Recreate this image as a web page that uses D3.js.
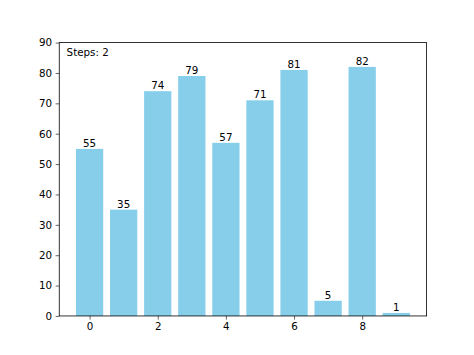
<!DOCTYPE html>
<html lang="en">
<head>
    <meta charset="UTF-8">
    <title>Steps bar chart</title>
    <script src="https://d3js.org/d3.v7.min.js"></script>
    <style>
        body { margin: 0; background: #fff; overflow: hidden; }
        text { font-family: "DejaVu Sans", sans-serif; }
    </style>
</head>
<body>
    <div id="chart"></div>
    <script>
        const categories = [0, 1, 2, 3, 4, 5, 6, 7, 8, 9];
        const values = [55, 35, 74, 79, 57, 71, 81, 5, 82, 1];
        const xTicks = [0, 2, 4, 6, 8];
        const yTicks = [0, 10, 20, 30, 40, 50, 60, 70, 80, 90];
        const stepLabel = "Steps: 2";

        const width = 474, height = 355;
        const margin = { top: 42.6, right: 47.4, bottom: 39.05, left: 59.25 };

        const svg = d3.select("#chart").append("svg")
            .attr("width", width)
            .attr("height", height);

        const x = d3.scaleLinear().domain([-0.89, 9.89]).range([margin.left, width - margin.right]);
        const y = d3.scaleLinear().domain([0, 90]).range([height - margin.bottom, margin.top]);
        const barW = 0.8;

        svg.selectAll(".bar")
            .data(categories)
            .enter().append("rect")
            .attr("class", "bar")
            .attr("x", d => x(d - barW / 2))
            .attr("width", d => x(d + barW / 2) - x(d - barW / 2))
            .attr("y", (d, i) => y(values[i]))
            .attr("height", (d, i) => y(0) - y(values[i]))
            .attr("fill", "#87ceeb");

        svg.selectAll(".lbl")
            .data(categories)
            .enter().append("text")
            .attr("class", "lbl")
            .attr("x", d => x(d))
            .attr("y", (d, i) => y(values[i]) - 2)
            .attr("text-anchor", "middle")
            .style("font-size", "10.3px")
            .text((d, i) => values[i]);

        const xAxis = svg.append("g")
            .attr("transform", `translate(0,${height - margin.bottom})`)
            .call(d3.axisBottom(x).tickValues(xTicks).tickSize(3.6).tickPadding(3.5));
        const yAxis = svg.append("g")
            .attr("transform", `translate(${margin.left},0)`)
            .call(d3.axisLeft(y).tickValues(yTicks).tickSize(3.6).tickPadding(3.5));

        [xAxis, yAxis].forEach(g => {
            g.select(".domain").remove();
            g.selectAll("line").attr("stroke", "#000").attr("stroke-width", 0.6);
            g.selectAll("text").style("font-size", "10.3px").style("font-family", "DejaVu Sans, sans-serif").attr("fill", "#000");
        });

        // frame
        svg.append("rect")
            .attr("x", margin.left)
            .attr("y", margin.top)
            .attr("width", width - margin.left - margin.right)
            .attr("height", height - margin.top - margin.bottom)
            .attr("fill", "none")
            .attr("stroke", "#000")
            .attr("stroke-width", 0.8);

        svg.append("text")
            .attr("x", x.range()[0] + 0.02 * (x.range()[1] - x.range()[0]))
            .attr("y", margin.top + 0.02 * (y.range()[0] - y.range()[1]))
            .attr("dy", "0.8em")
            .style("font-size", "10.3px")
            .text(stepLabel);
    </script>
</body>
</html>
